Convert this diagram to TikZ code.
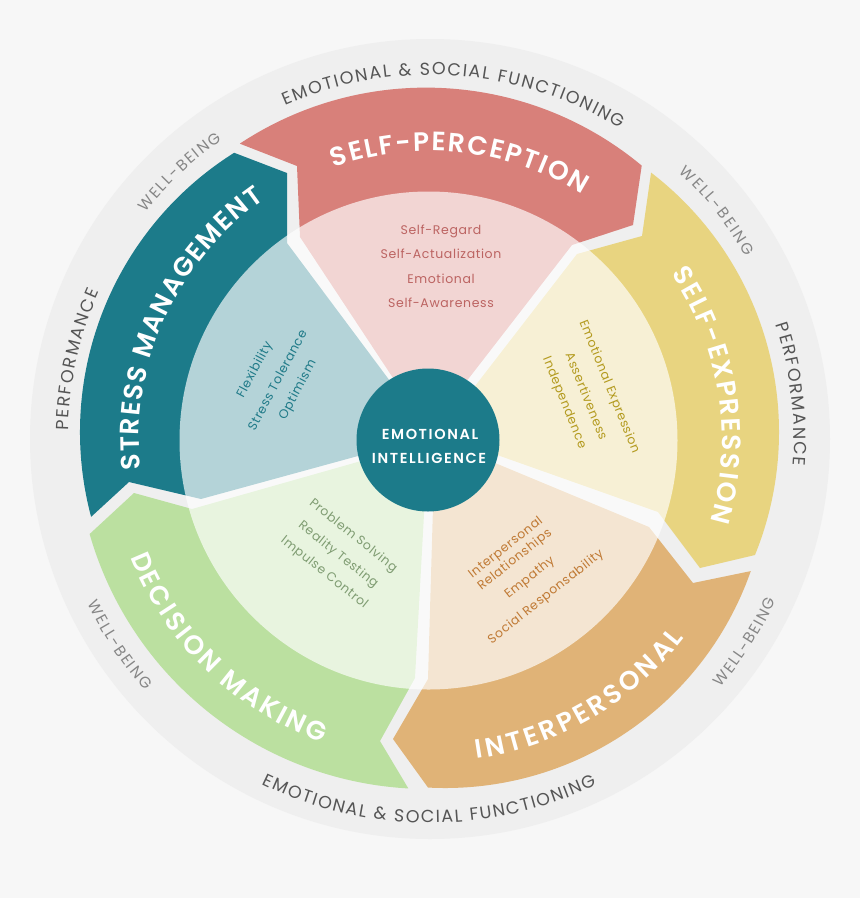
\documentclass[tikz,border=0pt]{standalone}
\usepackage{fontspec}
\usetikzlibrary{decorations.text}
\setmainfont{Poppins}
\newfontfamily\bodyf[LetterSpace=5]{Poppins}
\newfontfamily\midf[LetterSpace=11]{Poppins SemiBold}
\newfontfamily\titlef{Poppins SemiBold}
\definecolor{bgc}{HTML}{F7F7F7}
\definecolor{ringc}{HTML}{EFEFEF}
\definecolor{spc}{HTML}{D8807A}
\definecolor{smc}{HTML}{1C7B8A}
\definecolor{sec}{HTML}{E8D480}
\definecolor{ipc}{HTML}{E0B377}
\definecolor{dmc}{HTML}{BBE0A0}
\definecolor{darkt}{HTML}{555555}
\definecolor{lightt}{HTML}{868686}
\definecolor{sptxt}{HTML}{BC6462}
\definecolor{smtxt}{HTML}{1F7A88}
\definecolor{setxt}{HTML}{B39A1E}
\definecolor{iptxt}{HTML}{C07A35}
\definecolor{dmtxt}{HTML}{7F9C72}
\newcommand{\curved}[5]{\path[decorate,decoration={text along path,text={|#4|#5},text align=fit to path}] (C) ++(#2:#1pt) arc[start angle=#2,end angle=#3,radius=#1pt];}
\newcommand{\bigf}{\color{white}\titlef\fontsize{26.5}{30}\selectfont}
\newcommand{\capf}{\color{darkt}\fontsize{17.5}{20}\selectfont}
\newcommand{\wellf}{\color{lightt}\fontsize{15.5}{18}\selectfont}
\tikzset{
 inner/.style={font=\bodyf\fontsize{12.5}{15}\selectfont,inner sep=0pt,anchor=center},
 hubtext/.style={font=\midf\fontsize{14.5}{16}\selectfont,text=white,inner sep=0pt},
}
\begin{document}
\begin{tikzpicture}[x=1pt,y=1pt]
\useasboundingbox (0,0) rectangle (860,-898);
\fill[bgc] (0,0) rectangle (860,-898);
\coordinate (C) at (430,-439);
\fill[ringc] (C) circle[radius=400pt];
% coloured arrow segments
\fill[spc] (426,-425) ++(123.5:337.4pt) arc[start angle=123.5,end angle=50.25,radius=337.4pt] -- (633,-225) -- (572,-245) -- (428,-431) -- (300,-237) -- (297,-166) -- cycle;
\fill[smc] (410,-432) ++(122.2:330pt) arc[start angle=122.2,end angle=194.9,radius=330pt] -- (129,-482) -- (201,-499) -- (431,-436) -- (287,-243) -- (287,-173) -- cycle;
\fill[sec] (452,-432) ++(52.5:327pt) arc[start angle=52.5,end angle=-22.1,radius=327pt] -- (700,-568) -- (658,-512) -- (438,-434) -- (577,-254) -- (642,-236) -- cycle;
\fill[ipc] (445,-464) ++(-19.3:324pt) arc[start angle=-19.3,end angle=-93,radius=324pt] -- (393,-739) -- (428,-679) -- (435,-438) -- (649,-527) -- (693,-583) -- cycle;
\fill[dmc] (428,-437) ++(196:352pt) arc[start angle=196,end angle=266.8,radius=352pt] -- (380,-741) -- (415,-678) -- (428,-442) -- (192,-509) -- (134,-493) -- cycle;
% translucent inner disc
\fill[white,opacity=0.67] (428.5,-440.5) circle[radius=249pt];
% hub
\node[circle,fill=smc,minimum size=143pt,inner sep=0pt] (hub) at (428,-440) {};
\node[hubtext] (hubA) at (430,-434) {EMOTIONAL};
\node[hubtext] (hubB) at (429,-458) {INTELLIGENCE};
% ring captions
\curved{364}{113.5}{58.5}{\capf}{EMOTIONAL {\&} SOCIAL FUNCTIONING}
\curved{384}{244}{295.7}{\capf}{EMOTIONAL {\&} SOCIAL FUNCTIONING}
\curved{362}{178.6}{156}{\capf}{PERFORMANCE}
\curved{364}{18.3}{-4.2}{\capf}{PERFORMANCE}
\curved{364}{141.5}{124.8}{\wellf}{WELL-BEING}
\curved{365}{47}{30}{\wellf}{WELL-BEING}
\curved{382}{-40.5}{-25}{\wellf}{WELL-BEING}
\curved{380}{205.7}{221.4}{\wellf}{WELL-BEING}
% segment titles
\curved{288}{109.5}{58}{\bigf}{SELF-PERCEPTION}
\curved{291}{186}{124.7}{\bigf}{STRESS MANAGEMENT}
\curved{292}{34.4}{-16.4}{\bigf}{SELF-EXPRESSION}
\curved{323}{-81.7}{-38}{\bigf}{INTERPERSONAL}
\curved{322}{201.5}{250.5}{\bigf}{DECISION MAKING}
% inner lists
\node[inner,text=sptxt] (spa) at (441,-231) {Self-Regard};
\node[inner,text=sptxt] (spb) at (441,-254) {Self-Actualization};
\node[inner,text=sptxt] (spc1) at (441,-279) {Emotional};
\node[inner,text=sptxt] (spd) at (441,-303) {Self-Awareness};
\node[inner,text=smtxt,rotate=62] (sma) at (255,-370) {Flexibility};
\node[inner,text=smtxt,rotate=62] (smb) at (277,-380) {Stress Tolerance};
\node[inner,text=smtxt,rotate=62] (smd) at (298,-390) {Optimism};
\node[inner,text=setxt,rotate=-68] (sea) at (609,-387) {Emotional Expression};
\node[inner,text=setxt,rotate=-68] (seb) at (587,-396) {Assertiveness};
\node[inner,text=setxt,rotate=-68] (sed) at (564,-403) {Independence};
\node[inner,text=iptxt,rotate=38.5] (ipa) at (506,-548) {Interpersonal};
\node[inner,text=iptxt,rotate=38.5] (ipb) at (515,-560) {Relationships};
\node[inner,text=iptxt,rotate=38.5] (ipd) at (530,-578) {Empathy};
\node[inner,text=iptxt,rotate=38.5] (ipe) at (546,-597) {Social Responsability};
\node[inner,text=dmtxt,rotate=-38.7] (dma) at (353,-536) {Problem Solving};
\node[inner,text=dmtxt,rotate=-38.7] (dmb) at (338,-555) {Reality Testing};
\node[inner,text=dmtxt,rotate=-38.7] (dmd) at (324,-573) {Impulse Control};
\end{tikzpicture}
\end{document}
